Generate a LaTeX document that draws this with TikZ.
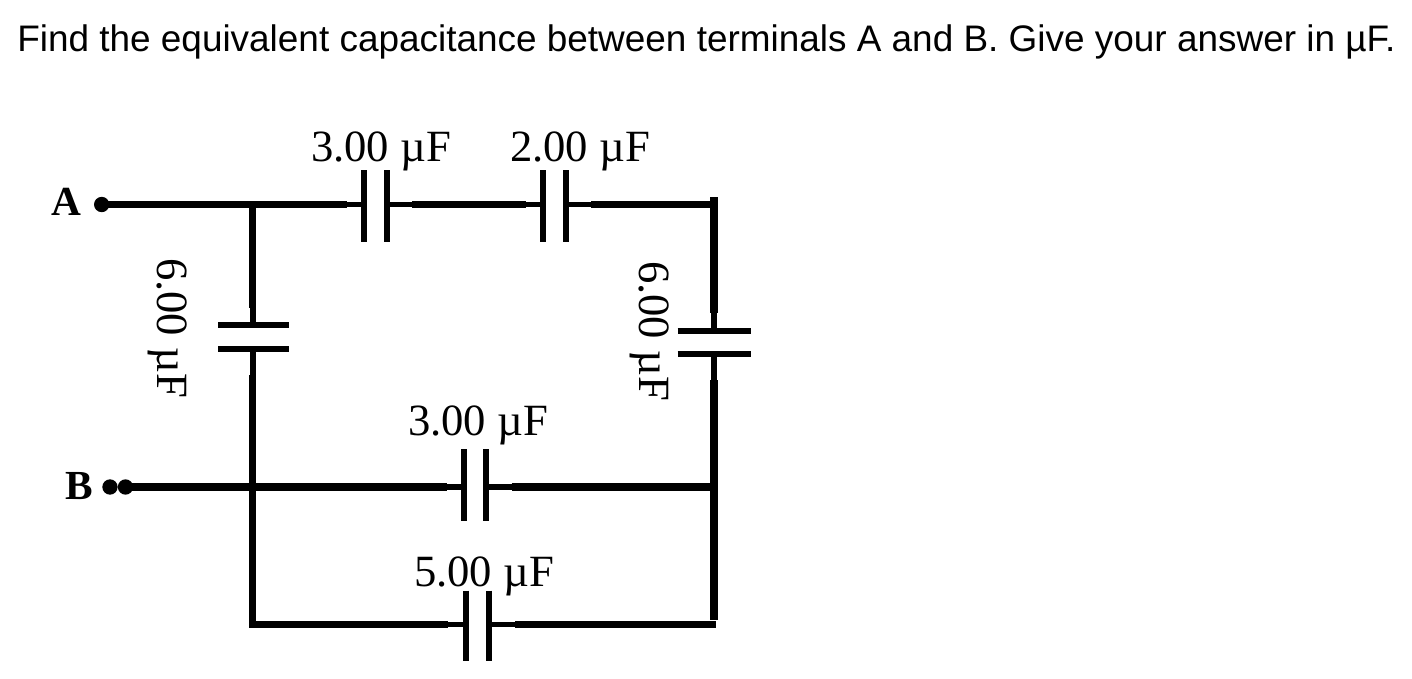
\documentclass[tikz,border=0pt]{standalone}
\usepackage{fontspec}
\setmainfont{Liberation Serif}
\newfontfamily\headfont{Liberation Sans}
\tikzset{
  wire/.style={line width=5.5pt,line cap=butt},
  stub/.style={line width=4.4pt,line cap=butt},
  plate/.style={line width=4.5pt,line cap=butt},
  val/.style={inner sep=0pt,font=\fontsize{33.5}{36}\selectfont},
  term/.style={inner sep=0pt,font=\fontsize{31}{34}\selectfont\bfseries},
  head/.style={inner sep=0pt,anchor=west,font=\headfont\fontsize{27.7}{30}\selectfont},
  dot/.style={circle,fill=black,inner sep=0pt,minimum size=11.5pt}
}
\begin{document}
\begin{tikzpicture}[x=0.75pt,y=-0.75pt]
\useasboundingbox (0,0) rectangle (1412,678);
\node[head] (title) at (17,42) {Find the equivalent capacitance between terminals A and B. Give your answer in µF.};
% terminals
\node[term] (lA) at (66,202) {A};
\node[term] (lB) at (79.5,486) {B};
\node[dot] (tA) at (101.7,204.5) {};
\node[dot] (tB1) at (110,487) {};
\node[dot] (tB2) at (125.5,487) {};
% corners and junctions
\coordinate (jA) at (252.7,204.5);
\coordinate (jB) at (252.7,487);
\coordinate (cTR) at (714,197);
\coordinate (cTRw) at (717,204.5);
\coordinate (jR) at (714,487);
\coordinate (cBL) at (249,624.5);
\coordinate (cBR) at (716,624.5);
\coordinate (cRend) at (714,620);
\coordinate (jBot) at (252.7,628);
% series capacitor 1
\coordinate (a1) at (347,204.5); \coordinate (a2) at (364,204.5);
\coordinate (a3) at (387,204.5); \coordinate (a4) at (412,204.5);
\draw[plate] (364,170) -- (364,241.7);
\draw[plate] (387,170) -- (387,241.7);
% series capacitor 2
\coordinate (b1) at (526,204.5); \coordinate (b2) at (543,204.5);
\coordinate (b3) at (565.7,204.5); \coordinate (b4) at (591,204.5);
\draw[plate] (543,170) -- (543,241.7);
\draw[plate] (565.7,170) -- (565.7,241.7);
% left capacitor
\coordinate (c1) at (252.7,308); \coordinate (c2) at (252.7,325.3);
\coordinate (c3) at (252.7,348.7); \coordinate (c4) at (252.7,375);
\draw[plate] (218,325.3) -- (289,325.3);
\draw[plate] (218,348.7) -- (289,348.7);
% right capacitor
\coordinate (d1) at (714,313); \coordinate (d2) at (714,330.7);
\coordinate (d3) at (714,354); \coordinate (d4) at (714,380);
\draw[plate] (677.7,330.7) -- (750.7,330.7);
\draw[plate] (677.7,354) -- (750.7,354);
% middle capacitor
\coordinate (e1) at (447,487); \coordinate (e2) at (463.7,487);
\coordinate (e3) at (486,487); \coordinate (e4) at (511.7,487);
\draw[plate] (463.7,449.3) -- (463.7,521);
\draw[plate] (486,449.3) -- (486,521);
% bottom capacitor
\coordinate (f1) at (448,624.5); \coordinate (f2) at (466,624.5);
\coordinate (f3) at (489,624.5); \coordinate (f4) at (515,624.5);
\draw[plate] (466,590.7) -- (466,660.7);
\draw[plate] (489,590.7) -- (489,660.7);
% wires
\draw[wire] (tA.center) -- (a1);
\draw[stub] (a1) -- (a2);
\draw[stub] (a3) -- (a4);
\draw[wire] (a4) -- (b1);
\draw[stub] (b1) -- (b2);
\draw[stub] (b3) -- (b4);
\draw[wire] (b4) -- (cTRw);
\draw[wire] (cTR) -- (d1);
\draw[stub] (d1) -- (d2);
\draw[stub] (d3) -- (d4);
\draw[wire] (d4) -- (cRend);
\draw[wire] (jA) -- (c1);
\draw[stub] (c1) -- (c2);
\draw[stub] (c3) -- (c4);
\draw[wire] (c4) -- (jBot);
\draw[wire] (tB2.center) -- (e1);
\draw[stub] (e1) -- (e2);
\draw[stub] (e3) -- (e4);
\draw[wire] (e4) -- (jR);
\draw[wire] (cBL) -- (f1);
\draw[stub] (f1) -- (f2);
\draw[stub] (f3) -- (f4);
\draw[wire] (f4) -- (cBR);
% values
\node[val] (v1) at (381,151) {3.00 µF};
\node[val] (v2) at (580,151) {2.00 µF};
\node[val] (v3) at (478,425) {3.00 µF};
\node[val] (v4) at (484,576) {5.00 µF};
\node[val,rotate=-90] (v5) at (168,328) {6.00 µF};
\node[val,rotate=-90] (v6) at (650,331) {6.00 µF};
\end{tikzpicture}
\end{document}
